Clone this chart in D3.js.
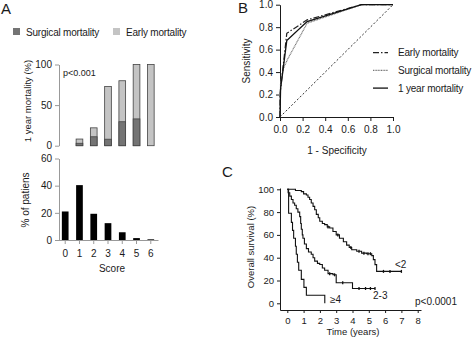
<!DOCTYPE html>
<html>
<head>
<meta charset="utf-8">
<script src="https://cdn.jsdelivr.net/npm/d3@7"></script>
<style>
body { margin: 0; background: #fff; }
text { font-family: "Liberation Sans", Arial, sans-serif; fill: #1a1a1a; }
.axis text { font-size: 10px; }
</style>
</head>
<body>
<svg id="fig" width="474" height="339"></svg>
<script>
// ---- panel A data
var scores = [0, 1, 2, 3, 4, 5, 6];
var patientPct = [21, 40.4, 19.3, 12.4, 5.7, 1.4, 0.5];
var mortScores = [1, 2, 3, 4, 5, 6];
var surgicalMort = [3, 11, 8, 29.5, 33, 0];
var earlyMort = [8.2, 22, 73, 80, 100, 100];

// ---- panel B data (ROC curves)
var rocNames = ["Early mortality", "Surgical mortality", "1 year mortality"];
var rocEarlyX = [0, 0, 0.06, 0.24, 0.72, 1];
var rocEarlyY = [0, 0.2, 0.745, 0.865, 1, 1];
var rocSurgX = [0, 0.005, 0.03, 0.065, 0.24, 0.72, 1];
var rocSurgY = [0, 0.3, 0.43, 0.51, 0.835, 1, 1];
var rocYearX = [0, 0.005, 0.06, 0.24, 0.72, 1];
var rocYearY = [0, 0.25, 0.68, 0.85, 1, 1];

// ---- panel C data (Kaplan-Meier)
var kmLowT = [0, 0.5, 0.86, 1.0, 1.17, 1.27, 1.37, 1.47, 1.58, 1.68, 1.78, 1.9, 1.99, 2.15, 2.29, 2.45, 2.6, 2.8, 3.0, 3.2, 3.44, 3.64, 3.8, 3.95, 4.26, 4.56, 4.87, 5.18, 5.28, 5.38, 5.48];
var kmLowS = [100, 99, 98, 96, 95, 93, 91, 88, 85, 82, 78, 75, 72, 70, 69, 67, 66, 63, 60, 57, 54, 51, 49, 47, 45.6, 44, 43.5, 41.8, 38.3, 33.9, 28];
var kmLowEnd = 7.02;
var kmLowCens = [2.5, 3.1, 3.9, 4.4, 4.7, 4.95, 5.1, 5.9, 6.3, 7.0];

var kmMidT = [0, 0.05, 0.15, 0.25, 0.35, 0.45, 0.55, 0.65, 0.76, 0.82, 0.86, 0.92, 0.96, 1.05, 1.17, 1.3, 1.47, 1.58, 1.68, 1.85, 1.99, 2.15, 2.29, 2.5, 2.8, 3.0, 4.0];
var kmMidS = [100, 97, 94, 91, 88, 86, 83, 80, 76, 70, 65, 60, 57, 52, 48, 45, 43, 40, 37, 35, 34, 31, 29, 26, 25, 18, 13];
var kmMidEnd = 5.38;
var kmMidCens = [2.6, 2.9, 3.4, 4.4, 4.8, 5.1, 5.38];

var kmHighT = [0, 0.08, 0.25, 0.32, 0.39, 0.5, 0.55, 0.62, 0.7, 0.86, 1.02, 1.17, 2.3];
var kmHighS = [100, 79, 71, 64, 57, 50, 43, 36, 29, 21, 14, 7, 0];
var kmHighEnd = 2.3;

var svg = d3.select("#fig");
var ink = "#1a1a1a";

// ================= Panel A =================
svg.append("text").attr("x", 1).attr("y", 14).style("font-size", "15px").text("A");

// legend
var legA = [["Surgical mortality", "#747474", 13], ["Early mortality", "#c4c4c4", 113]];
legA.forEach(function(d) {
    svg.append("rect").attr("x", d[2]).attr("y", 28).attr("width", 7).attr("height", 7)
        .style("fill", d[1]);
    svg.append("text").attr("x", d[2] + 13).attr("y", 35.5).style("font-size", "10px")
        .style("letter-spacing", "-0.2px").text(d[0]);
});

var xa = d3.scaleBand().domain(scores).range([58, 158]).paddingInner(0.53).paddingOuter(0.27);

// top: mortality
var ya = d3.scaleLinear().domain([0, 100]).range([145.7, 64.5]);
svg.append("g").attr("class", "axis").attr("transform", "translate(59,0)")
    .call(d3.axisLeft(ya).tickValues([0, 50, 100]).tickSize(4).tickSizeOuter(0))
    .call(function(g) { g.selectAll("path,line").style("stroke", "#999"); });

var topBars = svg.append("g");
mortScores.forEach(function(s, i) {
    topBars.append("rect")
        .attr("x", xa(s)).attr("width", xa.bandwidth())
        .attr("y", ya(earlyMort[i])).attr("height", ya(0) - ya(earlyMort[i]))
        .style("fill", "#c4c4c4").style("stroke", "#444").style("stroke-width", 0.8);
    if (surgicalMort[i] > 0) {
        topBars.append("rect")
            .attr("x", xa(s)).attr("width", xa.bandwidth())
            .attr("y", ya(surgicalMort[i])).attr("height", ya(0) - ya(surgicalMort[i]))
            .style("fill", "#747474").style("stroke", "#444").style("stroke-width", 0.8);
    }
});
svg.append("text").attr("x", 63).attr("y", 76).style("font-size", "9px").text("p<0.001");
svg.append("text").attr("transform", "translate(31,101) rotate(-90)")
    .attr("text-anchor", "middle").style("font-size", "9.5px").text("1 year mortality (%)");

// bottom: % of patients
var yb = d3.scaleLinear().domain([0, 60]).range([240, 158.5]);
svg.append("g").attr("class", "axis").attr("transform", "translate(59,0)")
    .call(d3.axisLeft(yb).tickValues([0, 20, 40, 60]).tickSize(4).tickSizeOuter(0))
    .call(function(g) { g.selectAll("path,line").style("stroke", "#999"); });
svg.append("g").attr("class", "axis").attr("transform", "translate(0,240)")
    .call(d3.axisBottom(xa).tickSize(4).tickSizeOuter(0).tickPadding(6))
    .call(function(g) { g.selectAll("path,line").style("stroke", "#999"); });

svg.append("g").selectAll("rect").data(patientPct).enter().append("rect")
    .attr("x", function(d, i) { return xa(scores[i]); })
    .attr("width", xa.bandwidth())
    .attr("y", function(d) { return yb(d); })
    .attr("height", function(d) { return yb(0) - yb(d); })
    .style("fill", "#000");

svg.append("text").attr("transform", "translate(29,200) rotate(-90)")
    .attr("text-anchor", "middle").style("font-size", "10px").text("% of patiens");
svg.append("text").attr("x", 112).attr("y", 272).attr("text-anchor", "middle")
    .style("font-size", "10px").text("Score");

// ================= Panel B =================
svg.append("text").attr("x", 238).attr("y", 13).style("font-size", "15px").text("B");
var xr = d3.scaleLinear().domain([0, 1]).range([280, 393]);
var yr = d3.scaleLinear().domain([0, 1]).range([117, 4.7]);
var fmt = d3.format(".1f");
svg.append("g").attr("class", "axis").attr("transform", "translate(280,0)")
    .call(d3.axisLeft(yr).ticks(5).tickFormat(fmt).tickSize(4).tickSizeOuter(0))
    .call(function(g) { g.selectAll("path,line").style("stroke", ink); });
svg.append("g").attr("class", "axis").attr("transform", "translate(0,117)")
    .call(d3.axisBottom(xr).ticks(5).tickFormat(fmt).tickSize(4).tickSizeOuter(0).tickPadding(5))
    .call(function(g) { g.selectAll("path,line").style("stroke", ink); });

svg.append("line").attr("x1", xr(0)).attr("y1", yr(0)).attr("x2", xr(1)).attr("y2", yr(1))
    .style("stroke", ink).style("stroke-width", 0.9).style("stroke-dasharray", "2,2");

var rocLine = d3.line().x(function(d) { return xr(d[0]); }).y(function(d) { return yr(d[1]); });
var rocStyles = [
    { xs: rocEarlyX, ys: rocEarlyY, color: "#222", dash: "6,2,1.5,2", w: 1.2 },
    { xs: rocSurgX, ys: rocSurgY, color: "#777", dash: "1,0.6", w: 1.2 },
    { xs: rocYearX, ys: rocYearY, color: "#111", dash: null, w: 1.3 }
];
rocStyles.forEach(function(r) {
    var pts = r.xs.map(function(x, i) { return [x, r.ys[i]]; });
    svg.append("path").attr("d", rocLine(pts))
        .style("fill", "none").style("stroke", r.color).style("stroke-width", r.w)
        .style("stroke-dasharray", r.dash);
});

// legend
rocNames.forEach(function(n, i) {
    var y = 52.7 + i * 17.7;
    var r = rocStyles[i];
    svg.append("line").attr("x1", 373).attr("x2", 388).attr("y1", y).attr("y2", y)
        .style("stroke", r.color).style("stroke-width", 1.3).style("stroke-dasharray", r.dash);
    svg.append("text").attr("x", 398).attr("y", y + 3.5).style("font-size", "10px")
        .style("letter-spacing", "-0.2px").text(n);
});

svg.append("text").attr("transform", "translate(250,61) rotate(-90)")
    .attr("text-anchor", "middle").style("font-size", "10px").text("Sensitivity");
svg.append("text").attr("x", 337).attr("y", 154).attr("text-anchor", "middle")
    .style("font-size", "10px").text("1 - Specificity");

// ================= Panel C =================
svg.append("text").attr("x", 222).attr("y", 177).style("font-size", "15px").text("C");
var xk = d3.scaleLinear().domain([0, 8]).range([287.3, 417.7]);
var yk = d3.scaleLinear().domain([0, 100]).range([303.3, 189.3]);
var xkAxis = xk.copy().domain([xk.invert(280), xk.invert(421)]).range([280, 421]);
var ykAxis = yk.copy().domain([yk.invert(310), yk.invert(188)]).range([310, 188]);

svg.append("g").attr("class", "axis").attr("transform", "translate(280,0)")
    .call(d3.axisLeft(ykAxis).tickValues([0, 20, 40, 60, 80, 100]).tickSize(3).tickSizeOuter(0))
    .call(function(g) { g.selectAll("path,line").style("stroke", ink); g.selectAll("text").style("font-size", "9.5px"); });
svg.append("g").attr("class", "axis").attr("transform", "translate(0,310)")
    .call(d3.axisBottom(xkAxis).tickValues([0, 1, 2, 3, 4, 5, 6, 7, 8]).tickSize(3).tickSizeOuter(0).tickPadding(4))
    .call(function(g) { g.selectAll("path,line").style("stroke", ink); g.selectAll("text").style("font-size", "9.5px"); });

var kmLine = d3.line().curve(d3.curveStepAfter)
    .x(function(d) { return xk(d[0]); }).y(function(d) { return yk(d[1]); });

function survAt(ts, ss, t) {
    var s = ss[0];
    ts.forEach(function(tt, i) { if (tt <= t) s = ss[i]; });
    return s;
}

var groups = [
    { t: kmLowT, s: kmLowS, end: kmLowEnd, cens: kmLowCens },
    { t: kmMidT, s: kmMidS, end: kmMidEnd, cens: kmMidCens },
    { t: kmHighT, s: kmHighS, end: kmHighEnd, cens: [] }
];
groups.forEach(function(g) {
    var pts = g.t.map(function(t, i) { return [t, g.s[i]]; });
    if (g.end > g.t[g.t.length - 1]) pts.push([g.end, g.s[g.s.length - 1]]);
    svg.append("path").attr("d", kmLine(pts))
        .style("fill", "none").style("stroke", "#111").style("stroke-width", 1.1);
    g.cens.forEach(function(c) {
        var y = yk(survAt(g.t, g.s, c));
        svg.append("line").attr("x1", xk(c)).attr("x2", xk(c)).attr("y1", y - 1.5).attr("y2", y + 1.5)
            .style("stroke", "#111").style("stroke-width", 1.3);
    });
});

svg.append("text").attr("x", 395).attr("y", 268).style("font-size", "10px").text("<2");
svg.append("text").attr("x", 373).attr("y", 299).style("font-size", "10px").text("2-3");
svg.append("text").attr("x", 330).attr("y", 303).style("font-size", "10px").text("\u22654");
svg.append("text").attr("x", 415).attr("y", 305).style("font-size", "10px").text("p<0.0001");

svg.append("text").attr("transform", "translate(254,247) rotate(-90)")
    .attr("text-anchor", "middle").style("font-size", "9.5px").text("Overall survival (%)");
svg.append("text").attr("x", 353).attr("y", 335).attr("text-anchor", "middle")
    .style("font-size", "9.5px").text("Time (years)");
</script>
</body>
</html>
